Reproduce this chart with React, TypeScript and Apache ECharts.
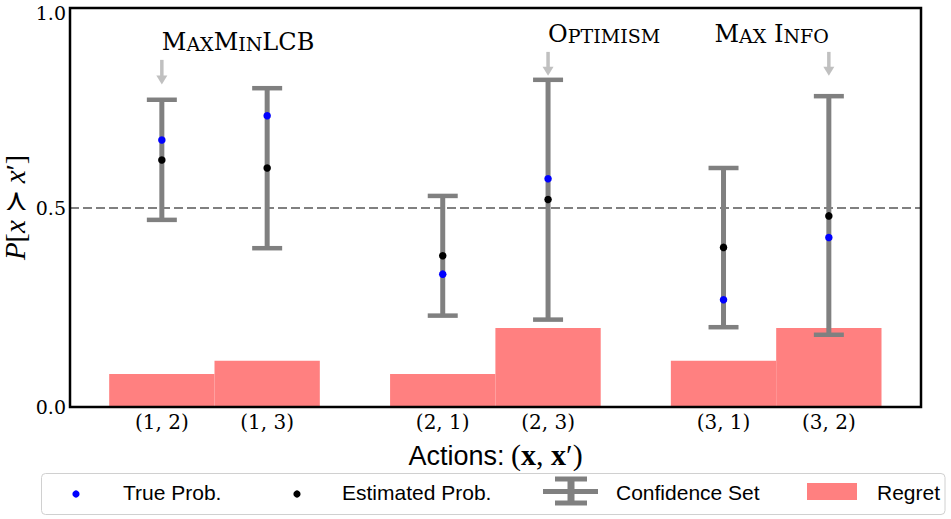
import { useEffect, useRef } from 'react';
import * as echarts from 'echarts';

// action pairs (x, x') and where they sit on the x axis (three groups of two)
const pairLabels = ['(1, 2)', '(1, 3)', '(2, 1)', '(2, 3)', '(3, 1)', '(3, 2)'];
const pairPositions = [0, 1, 2.667, 3.667, 5.333, 6.333];

const trueProb = [0.669, 0.73, 0.333, 0.572, 0.269, 0.425];
const estimatedProb = [0.619, 0.599, 0.379, 0.52, 0.4, 0.479];
const confLow = [0.469, 0.398, 0.229, 0.219, 0.2, 0.181];
const confHigh = [0.77, 0.799, 0.529, 0.82, 0.599, 0.779];
const regret = [0.083, 0.116, 0.083, 0.198, 0.116, 0.198];

// algorithm annotations: label, which pair it points at, arrow tail/tip and text baseline (y values)
const annotationLabels = ['MaxMinLCB', 'Optimism', 'Max Info'];
const annotationTarget = [0, 3, 5];
const annotationAlign = ['left', 'left', 'right'];
const arrowTail = [0.87, 0.89, 0.89];
const arrowTip = [0.808, 0.83, 0.83];
const labelBaseline = [0.898, 0.918, 0.918];

const legendNames = ['True Prob.', 'Estimated Prob.', 'Confidence Set', 'Regret'];

const SERIF = '"DejaVu Serif", "Liberation Serif", serif';
const TIMES = '"Liberation Serif", "DejaVu Serif", serif';
const SANS = '"Liberation Sans", "DejaVu Sans", sans-serif';
const GRAY = '#808080';
const ARROW = '#c0c0c0';
const REGRET = '#ff8080';

// turn a word into small caps rich text
function smallCaps(word: string) {
  return word
    .split('')
    .map((ch) => {
      if (ch === ' ') return '{b| }';
      if (ch === ch.toUpperCase()) return `{b|${ch}}`;
      return `{s|${ch.toUpperCase()}}`;
    })
    .join('');
}

function buildOption(): echarts.EChartsOption {
  const regretData = pairPositions.map((x, i) => [x, regret[i]]);
  const confData = pairPositions.map((x, i) => [x, confLow[i], confHigh[i]]);
  const trueData = pairPositions.map((x, i) => [x, trueProb[i]]);
  const estData = pairPositions.map((x, i) => [x, estimatedProb[i]]);
  const annData = annotationLabels.map((_, i) => [
    pairPositions[annotationTarget[i]],
    arrowTail[i],
    arrowTip[i],
    labelBaseline[i],
  ]);

  const legendY = 492;
  const legend: any[] = [
    {
      type: 'rect',
      shape: { x: 41.5, y: 473.5, width: 903.5, height: 41, r: 4 },
      style: { fill: '#fff', stroke: '#d0d0d0', lineWidth: 1 },
    },
    { type: 'circle', shape: { cx: 76, cy: 494, r: 3.6 }, style: { fill: '#0000ff' } },
    { type: 'circle', shape: { cx: 297, cy: 494, r: 3.6 }, style: { fill: '#000' } },
    { type: 'line', shape: { x1: 543, y1: 491.5, x2: 598, y2: 491.5 }, style: { stroke: GRAY, lineWidth: 5 } },
    { type: 'line', shape: { x1: 571, y1: 479, x2: 571, y2: 503 }, style: { stroke: GRAY, lineWidth: 7 } },
    { type: 'line', shape: { x1: 555, y1: 479, x2: 587, y2: 479 }, style: { stroke: GRAY, lineWidth: 5 } },
    { type: 'line', shape: { x1: 555, y1: 503, x2: 587, y2: 503 }, style: { stroke: GRAY, lineWidth: 5 } },
    { type: 'rect', shape: { x: 807, y: 483, width: 50, height: 17 }, style: { fill: REGRET } },
  ];
  const legendTextX = [123, 342, 616, 877];
  legendNames.forEach((name, i) => {
    legend.push({
      type: 'text',
      x: legendTextX[i],
      y: legendY,
      style: {
        text: name,
        fontFamily: SANS,
        fontSize: 21,
        fill: '#000',
        align: 'left',
        verticalAlign: 'middle',
      },
    });
  });

  return {
    animation: false,
    backgroundColor: '#fff',
    grid: {
      left: 70,
      right: 30,
      top: 8,
      bottom: 112,
      show: true,
      borderColor: '#000',
      borderWidth: 2.5,
      backgroundColor: 'transparent',
      containLabel: false,
      outerBoundsMode: 'none',
      z: 10,
    } as any,
    xAxis: {
      type: 'value',
      min: -0.872,
      max: 7.208,
      axisLine: { show: false },
      axisTick: { show: false },
      splitLine: { show: false },
      axisLabel: {
        customValues: pairPositions,
        formatter: (v: number) => {
          const i = pairPositions.findIndex((p) => Math.abs(p - v) < 1e-6);
          return i >= 0 ? pairLabels[i] : '';
        },
        fontFamily: SERIF,
        fontSize: 20,
        color: '#000',
        margin: 5,
      },
      name: '{s|Actions:}  {m|(}{b|x}{m|, }{b|x}{m|′)}',
      nameLocation: 'middle',
      nameGap: 30,
      nameTextStyle: {
        rich: {
          s: { fontFamily: SANS, fontSize: 27, color: '#000', lineHeight: 32, verticalAlign: 'bottom' },
          m: { fontFamily: TIMES, fontSize: 30, color: '#000', lineHeight: 32, verticalAlign: 'bottom' },
          b: { fontFamily: TIMES, fontSize: 30, fontWeight: 'bold', color: '#000', lineHeight: 32, verticalAlign: 'bottom' },
        },
      },
    } as any,
    yAxis: {
      type: 'value',
      min: 0,
      max: 1,
      interval: 0.5,
      axisLine: { show: false },
      axisTick: { show: false },
      splitLine: { show: false },
      axisLabel: {
        formatter: (v: number) => v.toFixed(1),
        fontFamily: SERIF,
        fontSize: 19,
        lineHeight: 10,
        verticalAlignMaxLabel: 'top',
        color: '#000',
        margin: 4,
      },
      name: '{i|P}[{i|x} ≻ {i|x}′]',
      nameLocation: 'middle',
      nameRotate: 90,
      nameGap: 40,
      nameMoveOverlap: false,
      nameTextStyle: {
        fontFamily: TIMES,
        fontSize: 28,
        color: '#000',
        lineHeight: 30,
        rich: {
          i: { fontFamily: TIMES, fontSize: 29, fontStyle: 'italic', color: '#000', lineHeight: 30 },
        },
      },
    } as any,
    graphic: legend,
    series: [
      {
        name: 'Regret',
        type: 'custom',
        z: 1,
        data: regretData,
        renderItem: (_params: any, api: any) => {
          const x = api.value(0);
          const v = api.value(1);
          const p0 = api.coord([x - 0.5, 0]);
          const p1 = api.coord([x + 0.5, v]);
          return {
            type: 'rect',
            shape: { x: p0[0], y: p1[1], width: p1[0] - p0[0], height: p0[1] - p1[1] },
            style: { fill: REGRET },
          };
        },
      },
      {
        name: 'Confidence Set',
        type: 'custom',
        z: 3,
        data: confData,
        renderItem: (_params: any, api: any) => {
          const x = api.value(0);
          const lo = api.coord([x, api.value(1)]);
          const hi = api.coord([x, api.value(2)]);
          const cap = 15;
          return {
            type: 'group',
            children: [
              {
                type: 'line',
                shape: { x1: lo[0], y1: lo[1], x2: hi[0], y2: hi[1] },
                style: { stroke: GRAY, lineWidth: 5 },
              },
              {
                type: 'line',
                shape: { x1: lo[0] - cap, y1: lo[1], x2: lo[0] + cap, y2: lo[1] },
                style: { stroke: GRAY, lineWidth: 4.5 },
              },
              {
                type: 'line',
                shape: { x1: hi[0] - cap, y1: hi[1], x2: hi[0] + cap, y2: hi[1] },
                style: { stroke: GRAY, lineWidth: 4.5 },
              },
            ],
          };
        },
        markLine: {
          silent: true,
          symbol: 'none',
          label: { show: false },
          lineStyle: { color: GRAY, width: 2, type: [9, 4] },
          data: [{ yAxis: 0.5 }],
          z: 2,
        },
      },
      {
        name: 'Estimated Prob.',
        type: 'scatter',
        z: 5,
        symbolSize: 7.5,
        itemStyle: { color: '#000', opacity: 1 },
        data: estData,
      },
      {
        name: 'True Prob.',
        type: 'scatter',
        z: 5,
        symbolSize: 7.5,
        itemStyle: { color: '#0000ff', opacity: 1 },
        data: trueData,
      },
      {
        name: 'Annotations',
        type: 'custom',
        z: 6,
        data: annData,
        renderItem: (params: any, api: any) => {
          const i = params.dataIndex;
          const x = api.value(0);
          const tail = api.coord([x, api.value(1)]);
          const tip = api.coord([x, api.value(2)]);
          const base = api.coord([x, api.value(3)]);
          const head = 9;
          return {
            type: 'group',
            children: [
              {
                type: 'line',
                shape: { x1: tail[0], y1: tail[1], x2: tip[0], y2: tip[1] - head + 1 },
                style: { stroke: ARROW, lineWidth: 3.5 },
              },
              {
                type: 'polygon',
                shape: {
                  points: [
                    [tip[0] - 5.5, tip[1] - head],
                    [tip[0] + 5.5, tip[1] - head],
                    [tip[0], tip[1]],
                  ],
                },
                style: { fill: ARROW },
              },
              {
                type: 'text',
                x: base[0],
                y: base[1] + 5,
                style: {
                  text: smallCaps(annotationLabels[i]),
                  align: annotationAlign[i],
                  verticalAlign: 'bottom',
                  rich: {
                    b: { fontFamily: SERIF, fontSize: 24, lineHeight: 25, verticalAlign: 'bottom', fill: '#000' },
                    s: { fontFamily: SERIF, fontSize: 19, lineHeight: 20, verticalAlign: 'bottom', fill: '#000' },
                  },
                },
              },
            ],
          };
        },
      },
    ],
  };
}

export default function App() {
  const chartRef = useRef<HTMLDivElement>(null);

  useEffect(() => {
    if (!chartRef.current) return;
    const chart = echarts.init(chartRef.current, undefined, { renderer: 'svg' });
    chart.setOption(buildOption());
    return () => {
      chart.dispose();
    };
  }, []);

  return (
    <div
      ref={chartRef}
      style={{ position: 'fixed', left: 0, top: 0, width: 951, height: 519, background: '#fff' }}
    />
  );
}
